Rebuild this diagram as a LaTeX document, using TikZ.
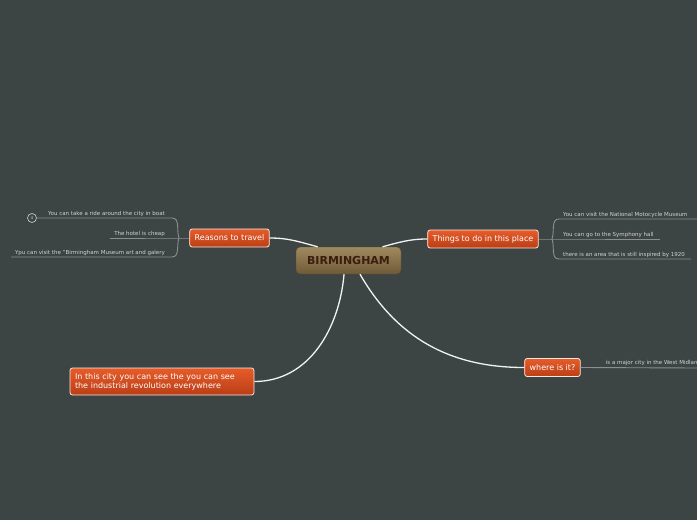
\documentclass[tikz,border=0pt]{standalone}
\usepackage{fontspec}
\setmainfont{DejaVu Sans}
\usetikzlibrary{positioning}
\definecolor{mapbg}{RGB}{61,68,68}
\definecolor{topictop}{RGB}{230,92,42}
\definecolor{topicbot}{RGB}{186,62,22}
\definecolor{centraltop}{RGB}{160,138,96}
\definecolor{centralbot}{RGB}{110,90,55}
\definecolor{centraltext}{RGB}{58,30,14}
\definecolor{subgray}{RGB}{140,142,142}
\definecolor{subtextgray}{RGB}{210,210,210}

\begin{document}
\begin{tikzpicture}[
    x=1pt,
    y=-1pt,
    central/.style={
        rounded corners=4pt,
        top color=centraltop,
        bottom color=centralbot,
        draw=centralbot!80!black,
        minimum width=105pt,
        minimum height=27pt,
        font=\fontsize{11}{13}\selectfont\bfseries,
        text=centraltext
    },
    topic/.style={
        rounded corners=2.5pt,
        top color=topictop,
        bottom color=topicbot,
        draw=white!85!topictop,
        line width=0.8pt,
        minimum height=18pt,
        inner xsep=5pt,
        font=\fontsize{8}{9}\selectfont,
        text=white
    },
    subtext/.style={
        font=\fontsize{5.5}{6.5}\selectfont,
        text=subtextgray,
        inner sep=0pt
    },
    subline/.style={
        draw=subgray,
        line width=0.9pt
    },
    branch/.style={
        draw=white!90!gray,
        line width=1.3pt
    },
    more/.style={
        circle,
        draw=subtextgray,
        line width=0.6pt,
        minimum size=9pt,
        inner sep=0pt,
        font=\fontsize{4}{5}\selectfont,
        text=subtextgray
    }
]
    \useasboundingbox (0,0) rectangle (697,520);
    \fill[mapbg] (0,0) rectangle (697,520);
    \clip (0,0) rectangle (697,520);

    \node[central] (birmingham) at (348.5,260.5) {BIRMINGHAM};
    \node[topic] (reasons) at (229.5,238) {Reasons to travel};
    \node[topic] (things) at (483,239) {Things to do in this place};
    \node[topic] (where) at (552.5,367.5) {where is it?};
    \node[topic, minimum height=27pt, text width=174pt, align=left] (industry) at (162,381.5) {
        In this city you can see the you can see\\
        the industrial revolution everywhere
    };

    \draw[branch] (birmingham.156) to[out=165, in=0] (reasons.east);
    \draw[branch] (birmingham.22) to[out=15, in=180] (things.west);
    \draw[branch] (birmingham.-50) to[out=-60, in=180] (where.west);
    \draw[branch] (birmingham.-108) to[out=-95, in=0] (industry.east);

    \coordinate (rfork) at (179,238);
    \coordinate (boatA) at (172,218);
    \coordinate (hotelB) at (110,238);
    \coordinate (galeryA) at (172,257);
    \coordinate (galeryB) at (11,257);
    \node[more] (boatmore) at (32,218) {4};
    \draw[subline] (reasons.west) -- (rfork) -- (hotelB);
    \draw[subline] (rfork) to[out=110, in=0] (boatA) -- (boatmore);
    \draw[subline] (rfork) to[out=-110, in=0] (galeryA) -- (galeryB);
    \node[subtext, above left=1.5pt and 7pt of boatA] (boat) {You can take a ride around the city in boat};
    \node[subtext, above left=1.5pt and 14pt of rfork] (hotel) {The hotel is cheap};
    \node[subtext, above left=1.5pt and 7pt of galeryA] (galery) {Ypu can visit the "Birmingham Museum art and galery};

    \coordinate (tfork) at (552,239);
    \coordinate (museumA) at (559,219);
    \coordinate (museumB) at (697,219);
    \coordinate (hallB) at (660,239);
    \coordinate (oldA) at (559,259);
    \coordinate (oldB) at (691,259);
    \draw[subline] (things.east) -- (tfork) -- (hallB);
    \draw[subline] (tfork) to[out=70, in=180] (museumA) -- (museumB);
    \draw[subline] (tfork) to[out=-70, in=180] (oldA) -- (oldB);
    \node[subtext, above right=1.5pt and 4pt of museumA] (museum) {You can visit the National Motocycle Museum};
    \node[subtext, above right=1.5pt and 11pt of tfork] (hall) {You can go to the Symphony hall};
    \node[subtext, above right=1.5pt and 4pt of oldA] (old) {there is an area that is still inspired by 1920};

    \coordinate (whereB) at (697,368);
    \draw[subline] (where.east) -- (whereB);
    \node[subtext, above right=1.5pt and 25pt of where.east] (midlands) {is a major city in the West Midlands};
\end{tikzpicture}
\end{document}
